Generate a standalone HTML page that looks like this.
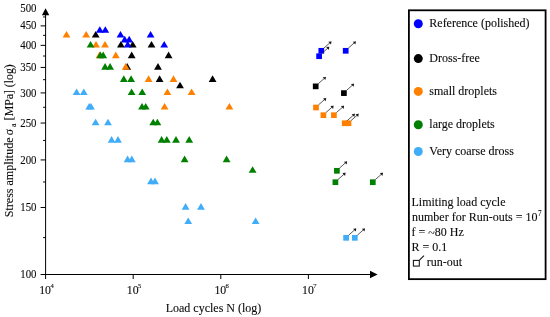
<!DOCTYPE html>
<html><head><meta charset="utf-8"><title>S-N chart</title>
<style>
html,body{margin:0;padding:0;background:#fff;}
svg{display:block;}
text{font-family:"Liberation Serif",serif;font-size:12px;fill:#0a0a0a;stroke:#0a0a0a;stroke-width:0.1px;}
.tk{font-size:11.8px;}
.ax{stroke:#000;stroke-width:1;fill:none;}
.ar{stroke:#222;stroke-width:0.75;fill:none;}
</style></head><body>
<svg width="550" height="317" viewBox="0 0 550 317">
<rect width="550" height="317" fill="#fff"/>
<defs>
<g id="ro"><path class="ar" d="M2.6,-2.5 L9.8,-8.8"/><path d="M7.0,-8.9 L10.2,-9.2 L9.7,-6.1 Z" fill="#1a1a1a"/></g>
</defs>

<path class="ax" d="M45.6,274.5 V14"/>
<path d="M45.6,8.3 L41.9,15.2 L49.300000000000004,15.2 Z" fill="#000"/>
<path class="ax" d="M45.1,274.5 H371"/>
<path d="M377.6,274.5 L370,270.8 L370,278.2 Z" fill="#000"/>
<path class="ax" d="M40.6,274.50 H45.6"/>
<text class="tk" transform="translate(36.5,278.10) scale(0.92,1)" text-anchor="end">100</text>
<path class="ax" d="M40.6,207.48 H45.6"/>
<text class="tk" transform="translate(36.5,211.08) scale(0.92,1)" text-anchor="end">150</text>
<path class="ax" d="M40.6,159.93 H45.6"/>
<text class="tk" transform="translate(36.5,163.53) scale(0.92,1)" text-anchor="end">200</text>
<path class="ax" d="M40.6,123.04 H45.6"/>
<text class="tk" transform="translate(36.5,126.64) scale(0.92,1)" text-anchor="end">250</text>
<path class="ax" d="M40.6,92.91 H45.6"/>
<text class="tk" transform="translate(36.5,96.51) scale(0.92,1)" text-anchor="end">300</text>
<path class="ax" d="M40.6,67.43 H45.6"/>
<text class="tk" transform="translate(36.5,71.03) scale(0.92,1)" text-anchor="end">350</text>
<path class="ax" d="M40.6,45.36 H45.6"/>
<text class="tk" transform="translate(36.5,48.96) scale(0.92,1)" text-anchor="end">400</text>
<path class="ax" d="M40.6,25.89 H45.6"/>
<text class="tk" transform="translate(36.5,29.49) scale(0.92,1)" text-anchor="end">450</text>
<text class="tk" transform="translate(36.5,11.70) scale(0.92,1)" text-anchor="end">500</text>
<path class="ax" d="M43.1,237.62 H45.6"/>
<path class="ax" d="M43.1,182.00 H45.6"/>
<path class="ax" d="M43.1,140.46 H45.6"/>
<path class="ax" d="M43.1,107.29 H45.6"/>
<path class="ax" d="M43.1,79.68 H45.6"/>
<path class="ax" d="M43.1,56.02 H45.6"/>
<path class="ax" d="M43.1,35.34 H45.6"/>
<path class="ax" d="M43.1,16.95 H45.6"/>
<path class="ax" d="M45.60,274.5 V279.0"/>
<text x="39.20" y="293.8" style="font-size:11.8px">10<tspan dx="-0.6" dy="-6.0" font-size="6.6px">4</tspan></text>
<path class="ax" d="M133.20,274.5 V279.0"/>
<text x="126.80" y="293.8" style="font-size:11.8px">10<tspan dx="-0.6" dy="-6.0" font-size="6.6px">5</tspan></text>
<path class="ax" d="M220.80,274.5 V279.0"/>
<text x="214.40" y="293.8" style="font-size:11.8px">10<tspan dx="-0.6" dy="-6.0" font-size="6.6px">6</tspan></text>
<path class="ax" d="M308.40,274.5 V279.0"/>
<text x="302.00" y="293.8" style="font-size:11.8px">10<tspan dx="-0.6" dy="-6.0" font-size="6.6px">7</tspan></text>
<text x="165.7" y="311.6">Load cycles N (log)</text>
<text transform="translate(13.2,217.2) rotate(-90)">Stress amplitude</text>
<text transform="translate(13.2,132.1) rotate(-90)" text-anchor="middle" style="font-size:11.6px">σ</text>
<text transform="translate(15.5,125.2) rotate(-90)" text-anchor="middle" style="font-size:8px">a</text>
<text transform="translate(13.2,64.2) rotate(-90)" text-anchor="end" style="font-size:11.8px">[MPa] (log)</text>
<path d="M95.7,30.94 L91.80,37.54 L99.60,37.54 Z" fill="#000000"/>
<path d="M120.9,40.96 L117.00,47.56 L124.80,47.56 Z" fill="#000000"/>
<path d="M132.7,40.96 L128.80,47.56 L136.60,47.56 Z" fill="#000000"/>
<path d="M151.5,40.96 L147.60,47.56 L155.40,47.56 Z" fill="#000000"/>
<path d="M131.7,51.62 L127.80,58.22 L135.60,58.22 Z" fill="#000000"/>
<path d="M168.6,51.62 L164.70,58.22 L172.50,58.22 Z" fill="#000000"/>
<path d="M127.2,63.03 L123.30,69.63 L131.10,69.63 Z" fill="#000000"/>
<path d="M158.0,63.03 L154.10,69.63 L161.90,69.63 Z" fill="#000000"/>
<path d="M159.6,75.28 L155.70,81.88 L163.50,81.88 Z" fill="#000000"/>
<path d="M212.6,75.28 L208.70,81.88 L216.50,81.88 Z" fill="#000000"/>
<path d="M180.0,81.76 L176.10,88.36 L183.90,88.36 Z" fill="#000000"/>
<path d="M99.8,26.14 L95.90,32.74 L103.70,32.74 Z" fill="#0000ff"/>
<path d="M105.3,26.14 L101.40,32.74 L109.20,32.74 Z" fill="#0000ff"/>
<path d="M120.5,30.94 L116.60,37.54 L124.40,37.54 Z" fill="#0000ff"/>
<path d="M150.6,30.94 L146.70,37.54 L154.50,37.54 Z" fill="#0000ff"/>
<path d="M124.7,35.87 L120.80,42.47 L128.60,42.47 Z" fill="#0000ff"/>
<path d="M129.2,35.87 L125.30,42.47 L133.10,42.47 Z" fill="#0000ff"/>
<path d="M127.7,40.96 L123.80,47.56 L131.60,47.56 Z" fill="#0000ff"/>
<path d="M164.2,40.96 L160.30,47.56 L168.10,47.56 Z" fill="#0000ff"/>
<path d="M66.5,30.94 L62.60,37.54 L70.40,37.54 Z" fill="#ff8000"/>
<path d="M86.2,30.94 L82.30,37.54 L90.10,37.54 Z" fill="#ff8000"/>
<path d="M96.0,40.96 L92.10,47.56 L99.90,47.56 Z" fill="#ff8000"/>
<path d="M105.0,40.96 L101.10,47.56 L108.90,47.56 Z" fill="#ff8000"/>
<path d="M99.5,51.62 L95.60,58.22 L103.40,58.22 Z" fill="#ff8000"/>
<path d="M115.8,51.62 L111.90,58.22 L119.70,58.22 Z" fill="#ff8000"/>
<path d="M125.7,63.03 L121.80,69.63 L129.60,69.63 Z" fill="#ff8000"/>
<path d="M148.6,75.28 L144.70,81.88 L152.50,81.88 Z" fill="#ff8000"/>
<path d="M173.5,75.28 L169.60,81.88 L177.40,81.88 Z" fill="#ff8000"/>
<path d="M167.4,88.51 L163.50,95.11 L171.30,95.11 Z" fill="#ff8000"/>
<path d="M191.6,88.51 L187.70,95.11 L195.50,95.11 Z" fill="#ff8000"/>
<path d="M164.6,102.89 L160.70,109.49 L168.50,109.49 Z" fill="#ff8000"/>
<path d="M229.4,102.89 L225.50,109.49 L233.30,109.49 Z" fill="#ff8000"/>
<path d="M90.6,40.96 L86.70,47.56 L94.50,47.56 Z" fill="#008000"/>
<path d="M100.4,51.62 L96.50,58.22 L104.30,58.22 Z" fill="#008000"/>
<path d="M103.2,51.62 L99.30,58.22 L107.10,58.22 Z" fill="#008000"/>
<path d="M105.1,63.03 L101.20,69.63 L109.00,69.63 Z" fill="#008000"/>
<path d="M110.1,63.03 L106.20,69.63 L114.00,69.63 Z" fill="#008000"/>
<path d="M123.8,75.28 L119.90,81.88 L127.70,81.88 Z" fill="#008000"/>
<path d="M131.1,75.28 L127.20,81.88 L135.00,81.88 Z" fill="#008000"/>
<path d="M131.6,88.51 L127.70,95.11 L135.50,95.11 Z" fill="#008000"/>
<path d="M142.2,88.51 L138.30,95.11 L146.10,95.11 Z" fill="#008000"/>
<path d="M142.0,102.89 L138.10,109.49 L145.90,109.49 Z" fill="#008000"/>
<path d="M145.7,102.89 L141.80,109.49 L149.60,109.49 Z" fill="#008000"/>
<path d="M153.2,118.64 L149.30,125.24 L157.10,125.24 Z" fill="#008000"/>
<path d="M157.4,118.64 L153.50,125.24 L161.30,125.24 Z" fill="#008000"/>
<path d="M161.6,136.06 L157.70,142.66 L165.50,142.66 Z" fill="#008000"/>
<path d="M166.8,136.06 L162.90,142.66 L170.70,142.66 Z" fill="#008000"/>
<path d="M176.0,136.06 L172.10,142.66 L179.90,142.66 Z" fill="#008000"/>
<path d="M189.2,136.06 L185.30,142.66 L193.10,142.66 Z" fill="#008000"/>
<path d="M184.6,155.53 L180.70,162.13 L188.50,162.13 Z" fill="#008000"/>
<path d="M226.6,155.53 L222.70,162.13 L230.50,162.13 Z" fill="#008000"/>
<path d="M252.6,166.20 L248.70,172.80 L256.50,172.80 Z" fill="#008000"/>
<path d="M76.6,88.51 L72.70,95.11 L80.50,95.11 Z" fill="#41adf8"/>
<path d="M83.8,88.51 L79.90,95.11 L87.70,95.11 Z" fill="#41adf8"/>
<path d="M89.2,102.89 L85.30,109.49 L93.10,109.49 Z" fill="#41adf8"/>
<path d="M91.0,102.89 L87.10,109.49 L94.90,109.49 Z" fill="#41adf8"/>
<path d="M95.6,118.64 L91.70,125.24 L99.50,125.24 Z" fill="#41adf8"/>
<path d="M108.0,118.64 L104.10,125.24 L111.90,125.24 Z" fill="#41adf8"/>
<path d="M111.6,136.06 L107.70,142.66 L115.50,142.66 Z" fill="#41adf8"/>
<path d="M118.0,136.06 L114.10,142.66 L121.90,142.66 Z" fill="#41adf8"/>
<path d="M127.6,155.53 L123.70,162.13 L131.50,162.13 Z" fill="#41adf8"/>
<path d="M131.8,155.53 L127.90,162.13 L135.70,162.13 Z" fill="#41adf8"/>
<path d="M151.0,177.60 L147.10,184.20 L154.90,184.20 Z" fill="#41adf8"/>
<path d="M155.0,177.60 L151.10,184.20 L158.90,184.20 Z" fill="#41adf8"/>
<path d="M185.6,203.08 L181.70,209.68 L189.50,209.68 Z" fill="#41adf8"/>
<path d="M201.0,203.08 L197.10,209.68 L204.90,209.68 Z" fill="#41adf8"/>
<path d="M188.2,217.46 L184.30,224.06 L192.10,224.06 Z" fill="#41adf8"/>
<path d="M255.6,217.46 L251.70,224.06 L259.50,224.06 Z" fill="#41adf8"/>
<rect x="312.85" y="83.51" width="5.7" height="5.7" fill="#000000"/>
<rect x="341.05" y="90.26" width="5.7" height="5.7" fill="#000000"/>
<rect x="318.45" y="47.95" width="5.7" height="5.7" fill="#0000ff"/>
<rect x="316.25" y="53.37" width="5.7" height="5.7" fill="#0000ff"/>
<rect x="342.85" y="47.95" width="5.7" height="5.7" fill="#0000ff"/>
<rect x="313.15" y="104.64" width="5.7" height="5.7" fill="#ff8000"/>
<rect x="320.55" y="112.33" width="5.7" height="5.7" fill="#ff8000"/>
<rect x="331.05" y="112.33" width="5.7" height="5.7" fill="#ff8000"/>
<rect x="341.85" y="120.39" width="5.7" height="5.7" fill="#ff8000"/>
<rect x="345.65" y="120.39" width="5.7" height="5.7" fill="#ff8000"/>
<rect x="334.05" y="167.95" width="5.7" height="5.7" fill="#008000"/>
<rect x="332.55" y="179.35" width="5.7" height="5.7" fill="#008000"/>
<rect x="369.95" y="179.35" width="5.7" height="5.7" fill="#008000"/>
<rect x="343.25" y="234.97" width="5.7" height="5.7" fill="#41adf8"/>
<rect x="351.95" y="234.97" width="5.7" height="5.7" fill="#41adf8"/>
<use href="#ro" x="315.70" y="86.16"/>
<use href="#ro" x="343.90" y="92.91"/>
<use href="#ro" x="321.30" y="50.60"/>
<use href="#ro" x="319.10" y="56.02"/>
<use href="#ro" x="345.70" y="50.60"/>
<use href="#ro" x="316.00" y="107.29"/>
<use href="#ro" x="323.40" y="114.98"/>
<use href="#ro" x="333.90" y="114.98"/>
<use href="#ro" x="344.70" y="123.04"/>
<use href="#ro" x="348.50" y="123.04"/>
<use href="#ro" x="336.90" y="170.60"/>
<use href="#ro" x="335.40" y="182.00"/>
<use href="#ro" x="372.80" y="182.00"/>
<use href="#ro" x="346.10" y="237.62"/>
<use href="#ro" x="354.80" y="237.62"/>
<rect x="408.9" y="10.3" width="136.7" height="268.85" fill="#fff" stroke="#000" stroke-width="1.8"/>
<circle cx="418.3" cy="23.7" r="4.5" fill="#0000ff"/>
<text x="429.3" y="27.1">Reference (polished)</text>
<circle cx="418.3" cy="58.6" r="4.5" fill="#000000"/>
<text x="429.3" y="62.0">Dross-free</text>
<circle cx="418.3" cy="91.4" r="4.5" fill="#ff8000"/>
<text x="429.3" y="94.8">small droplets</text>
<circle cx="418.3" cy="124.7" r="4.5" fill="#008000"/>
<text x="429.3" y="128.1">large droplets</text>
<circle cx="418.3" cy="151.5" r="4.5" fill="#41adf8"/>
<text x="429.3" y="154.9">Very coarse dross</text>
<text x="411.5" y="205.6">Limiting load cycle</text>
<text x="412.0" y="220.7">number for Run-outs = 10</text><text x="537.9" y="216.3" style="font-size:7.3px">7</text>
<text x="411.5" y="235.5">f = <tspan dy="1.8">~</tspan><tspan dy="-1.8">80 Hz</tspan></text>
<text x="411.5" y="250.5">R = 0.1</text>
<rect x="413.4" y="260.4" width="5.9" height="5.7" fill="none" stroke="#111" stroke-width="1.05"/>
<path d="M419.5,260.2 L424,255.7" stroke="#111" stroke-width="1.05" fill="none"/>
<text x="426.8" y="265.8">run-out</text>
</svg></body></html>
